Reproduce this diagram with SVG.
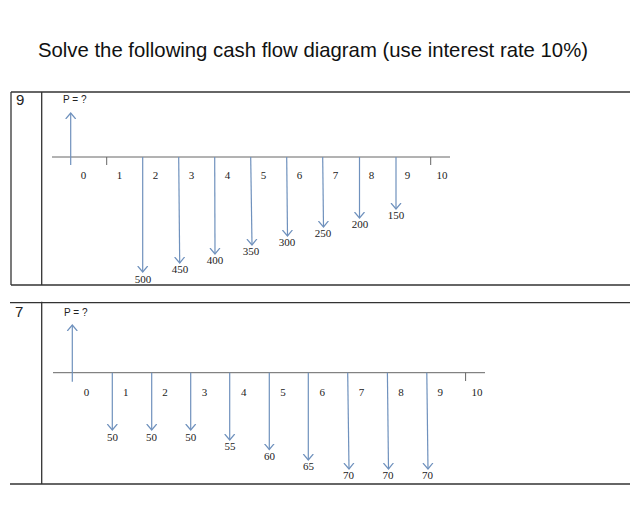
<svg xmlns="http://www.w3.org/2000/svg" width="630" height="517" viewBox="0 0 630 517">
<defs>
<marker id="ah" markerWidth="12" markerHeight="12" refX="6" refY="6" orient="auto" markerUnits="userSpaceOnUse">
<path d="M0,1 L6,6 L0,11" fill="none" stroke="#6f91bd" stroke-width="1.2"/>
</marker>
</defs>
<style>
.frame{stroke:#333;stroke-width:1.3;fill:none}
.axis{stroke:#666;stroke-width:1;fill:none}
.flow{stroke:#6f91bd;stroke-width:1.2;fill:none;marker-end:url(#ah)}
.num{font-family:"Liberation Serif",serif;font-size:11px;fill:#222;text-anchor:middle}
.amt{font-family:"Liberation Serif",serif;font-size:11px;fill:#222;text-anchor:middle}
.p{font-family:"Liberation Sans",sans-serif;font-size:10px;fill:#222}
.idx{font-family:"Liberation Sans",sans-serif;font-size:15px;fill:#222}
.title{font-family:"Liberation Sans",sans-serif;font-size:21px;fill:#111}
</style>
<rect width="630" height="517" fill="#fff"/>
<text class="title" x="38" y="57" textLength="550" lengthAdjust="spacingAndGlyphs">Solve the following cash flow diagram (use interest rate 10%)</text>

<g id="frame9">
<line class="frame" x1="11" y1="92" x2="630" y2="92"/>
<line class="frame" x1="11" y1="285" x2="630" y2="285"/>
<line class="frame" x1="11" y1="92" x2="11" y2="285"/>
<line class="frame" x1="41.7" y1="92" x2="41.7" y2="285"/>
<text class="idx" x="16" y="105">9</text>
</g>
<g id="axis9">
<line class="axis" x1="52" y1="157" x2="450" y2="157"/>
<line class="axis" x1="106.7" y1="157" x2="106.7" y2="165"/>
<line class="axis" x1="430.7" y1="157" x2="430.7" y2="165"/>
<text class="num" x="83.5" y="179">0</text>
<text class="num" x="119.5" y="179">1</text>
<text class="num" x="155.5" y="179">2</text>
<text class="num" x="191.5" y="179">3</text>
<text class="num" x="227.5" y="179">4</text>
<text class="num" x="263.5" y="179">5</text>
<text class="num" x="299.5" y="179">6</text>
<text class="num" x="335.5" y="179">7</text>
<text class="num" x="371.5" y="179">8</text>
<text class="num" x="407.5" y="179">9</text>
<text class="num" x="442" y="179">10</text>
<text class="p" x="63" y="103">P = ?</text>
</g>
<g id="flows9">
<line class="flow" x1="70.7" y1="165" x2="70.7" y2="113"/>
<line class="flow" x1="142.7" y1="157" x2="142.7" y2="272"/>
<line class="flow" x1="178.7" y1="157" x2="179.7" y2="263"/>
<line class="flow" x1="214.7" y1="157" x2="215" y2="254"/>
<line class="flow" x1="250.7" y1="157" x2="252" y2="245"/>
<line class="flow" x1="286.7" y1="157" x2="287.5" y2="236"/>
<line class="flow" x1="322.7" y1="157" x2="323.5" y2="227"/>
<line class="flow" x1="359.5" y1="157" x2="359.5" y2="218"/>
<line class="flow" x1="396" y1="157" x2="396" y2="209"/>
<text class="amt" x="143" y="283">500</text>
<text class="amt" x="180" y="273">450</text>
<text class="amt" x="215" y="264">400</text>
<text class="amt" x="251" y="255">350</text>
<text class="amt" x="287" y="246">300</text>
<text class="amt" x="323" y="237">250</text>
<text class="amt" x="360" y="228">200</text>
<text class="amt" x="396" y="219">150</text>
</g>

<g id="frame7">
<line class="frame" x1="10" y1="302.7" x2="630" y2="302.7"/>
<line class="frame" x1="10" y1="484" x2="630" y2="484"/>
<line class="frame" x1="41.7" y1="301.7" x2="41.7" y2="484"/>
<text class="idx" x="15" y="317">7</text>
</g>
<g id="axis7">
<line class="axis" x1="53" y1="372.7" x2="485" y2="372.7"/>
<line class="axis" x1="465.6" y1="372.7" x2="465.6" y2="381"/>
<text class="num" x="86.5" y="396">0</text>
<text class="num" x="125.8" y="396">1</text>
<text class="num" x="165.1" y="396">2</text>
<text class="num" x="204.4" y="396">3</text>
<text class="num" x="243.7" y="396">4</text>
<text class="num" x="283" y="396">5</text>
<text class="num" x="322.3" y="396">6</text>
<text class="num" x="361.6" y="396">7</text>
<text class="num" x="400.9" y="396">8</text>
<text class="num" x="440.2" y="396">9</text>
<text class="num" x="477" y="396">10</text>
<text class="p" x="64" y="316">P = ?</text>
</g>
<g id="flows7">
<line class="flow" x1="72.3" y1="381.7" x2="72.3" y2="325"/>
<line class="flow" x1="112.3" y1="372.7" x2="112.3" y2="430"/>
<line class="flow" x1="151.7" y1="372.7" x2="151.7" y2="430"/>
<line class="flow" x1="190.7" y1="372.7" x2="190.7" y2="430"/>
<line class="flow" x1="229.7" y1="372.7" x2="229.7" y2="440"/>
<line class="flow" x1="269.3" y1="372.7" x2="269.3" y2="449.5"/>
<line class="flow" x1="308.3" y1="372.7" x2="308.3" y2="460"/>
<line class="flow" x1="347.7" y1="372.7" x2="349" y2="469"/>
<line class="flow" x1="387.4" y1="372.7" x2="388.5" y2="469"/>
<line class="flow" x1="426.8" y1="372.7" x2="428" y2="469"/>
<text class="amt" x="112.5" y="441">50</text>
<text class="amt" x="151.5" y="441">50</text>
<text class="amt" x="190.7" y="441">50</text>
<text class="amt" x="230" y="450">55</text>
<text class="amt" x="269.5" y="459.5">60</text>
<text class="amt" x="308.5" y="469.5">65</text>
<text class="amt" x="348.5" y="479">70</text>
<text class="amt" x="388" y="479">70</text>
<text class="amt" x="427.5" y="479">70</text>
</g>
</svg>
